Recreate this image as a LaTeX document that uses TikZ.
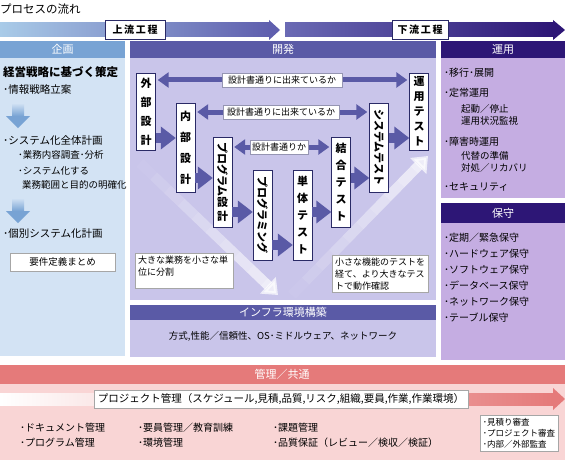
\documentclass[tikz,border=0pt]{standalone}
\usepackage{fontspec}
\setmainfont{Noto Sans CJK JP}
\usetikzlibrary{arrows.meta,calc,positioning}

\definecolor{kikakuhd}{HTML}{78A3D4}
\definecolor{kikakubg}{HTML}{D3E3F4}
\definecolor{kaihatsuhd}{HTML}{5A5AA6}
\definecolor{kaihatsubg}{HTML}{C9C5EA}
\definecolor{unyohd}{HTML}{2D1676}
\definecolor{unyobg}{HTML}{C5ADE2}
\definecolor{kanrihd}{HTML}{E57A7A}
\definecolor{kanribg}{HTML}{F9D5D5}
\definecolor{boxline}{HTML}{2A2A66}
\definecolor{bandA}{HTML}{A9CBE8}
\definecolor{bandB}{HTML}{5F5FAE}
\definecolor{bandC}{HTML}{6A6AB4}
\definecolor{bandD}{HTML}{2D1676}

\begin{document}
\begin{tikzpicture}[x=1pt,y=-1pt,
    hdr/.style={text=white,inner sep=0pt,font=\fontsize{11}{13}\selectfont},
    txt/.style={anchor=west,inner sep=0pt,font=\fontsize{10}{12}\selectfont},
    subtxt/.style={anchor=west,inner sep=0pt,font=\fontsize{9.5}{11}\selectfont},
    stage/.style={draw=boxline,fill=white,inner sep=0pt,minimum width=19pt,align=center,
        font=\bfseries\fontsize{11}{#1}\selectfont},
    chk/.style={draw=boxline!50,fill=white,inner sep=2pt,minimum height=14pt,
        font=\fontsize{9}{11}\selectfont},
    note/.style={draw=gray!70,fill=white,inner sep=3pt,anchor=north west,
        font=\fontsize{9}{12}\selectfont},
    fwd/.style={kaihatsuhd,line width=10pt,-{Triangle[length=15pt,width=22pt]}},
    dbl/.style={kaihatsuhd,line width=5pt,{Triangle[length=11pt,width=15pt]}-{Triangle[length=11pt,width=15pt]}}]
  \useasboundingbox (0,0) rectangle (565,460);

  % title and process bands
  \node[anchor=west,inner sep=0pt,font=\fontsize{11.5}{13}\selectfont] (flow) at (0,9) {プロセスの流れ};
  \shade[left color=bandA,right color=bandB] (0,23) rectangle (269,37);
  \fill[bandB] (269,20) -- (280,30) -- (269,40) -- cycle;
  \shade[left color=bandC,right color=bandD] (285,23) rectangle (553,37);
  \fill[bandD] (553,20) -- (565,30) -- (553,40) -- cycle;
  \node[draw=boxline,fill=white,minimum width=60pt,minimum height=19pt,inner sep=0pt,
    font=\bfseries\fontsize{10}{12}\selectfont] (joryu) at (135,30) {上\,流\,工\,程};
  \node[draw=boxline,fill=white,minimum width=56pt,minimum height=19pt,inner sep=0pt,
    font=\bfseries\fontsize{10}{12}\selectfont] (karyu) at (420,30) {下\,流\,工\,程};

  % planning
  \fill[kikakubg] (0,41) rectangle (125,356);
  \fill[kikakuhd] (0,41) rectangle (125,58);
  \node[hdr] (kikaku) at (62.5,49.5) {企画};
  \node[txt,font=\bfseries\fontsize{11.5}{13}\selectfont] (senryaku) at (3,72) {経営戦略に基づく策定};
  \node[txt,font=\fontsize{10.5}{12}\selectfont] (joho) at (3,89) {･情報戦略立案};
  \foreach \y in {103,198}{
    \shade[top color=kikakubg,bottom color=kikakuhd] (12,\y) rectangle (24,\y+13);
    \fill[kikakuhd] (6,\y+13) -- (30,\y+13) -- (18,\y+25) -- cycle;
  }
  \node[txt,font=\fontsize{10.5}{12}\selectfont] (zentai) at (3,140) {･システム化全体計画};
  \node[subtxt] (chosa) at (18,155) {･業務内容調査･分析};
  \node[subtxt] (shisuka) at (18,171) {･システム化する};
  \node[subtxt] (hanni) at (22,185) {業務範囲と目的の明確化};
  \node[txt,font=\fontsize{10.5}{12}\selectfont] (kobetsu) at (3,234) {･個別システム化計画};
  \node[draw=gray!70,fill=white,minimum width=105pt,minimum height=18pt,inner sep=0pt,
    font=\fontsize{9.5}{11}\selectfont] (yoken) at (62.5,262) {要件定義まとめ};

  % development
  \fill[kaihatsubg] (130,41) rectangle (436,300);
  \fill[kaihatsuhd] (130,41) rectangle (436,58);
  \node[hdr] (kaihatsu) at (283,49.5) {開発};

  \coordinate (dn0) at (140,163);
  \coordinate (dn1) at (278,295);
  \coordinate (up0) at (292,295);
  \coordinate (up1) at (428,156);
  \foreach \i in {0,...,8}{
    \draw[white,line width=10pt,opacity=0.05+0.07*\i] ($(dn0)!\i/10!(dn1)$) -- ($(dn0)!\i/10+0.1!(dn1)$);
    \draw[white,line width=10pt,opacity=0.05+0.07*\i] ($(up0)!\i/10!(up1)$) -- ($(up0)!\i/10+0.1!(up1)$);
  }
  \draw[white,line width=10pt,opacity=0.7,-{Triangle[length=14pt,width=22pt]}] ($(dn0)!0.9!(dn1)$) -- (dn1);
  \draw[white,line width=10pt,opacity=0.7,-{Triangle[length=14pt,width=22pt]}] ($(up0)!0.9!(up1)$) -- (up1);

  \node[stage=19,minimum height=77pt] (gaibu) at (146,111.5) {外\\部\\設\\計};
  \node[stage=21,minimum height=89pt] (naibu) at (185.5,147.5) {内\\部\\設\\計};
  \node[stage=14,minimum height=90pt] (pgsekkei) at (222.5,182) {\rotatebox{-90}{プログラム}\\設\\計};
  \node[stage=13,minimum height=90pt] (pgming) at (262.5,215) {\rotatebox{-90}{プログラミング}};
  \node[stage=17,minimum height=90pt] (tantai) at (302.5,215) {単\\体\\テ\\ス\\ト};
  \node[stage=17,minimum height=90pt] (ketsugo) at (341,182) {結\\合\\テ\\ス\\ト};
  \node[stage=13,minimum height=89pt] (systest) at (379,147.5) {\rotatebox{-90}{システムテスト}};
  \node[stage=15,minimum height=77pt] (unyotest) at (419,111.5) {運\\用\\テ\\ス\\ト};

  \draw[fwd] (gaibu.east |- 0,138) -- (naibu.west |- 0,138);
  \draw[fwd] (naibu.east |- 0,178) -- (pgsekkei.west |- 0,178);
  \draw[fwd] (pgsekkei.east |- 0,212) -- (pgming.west |- 0,212);
  \draw[fwd] (pgming.east |- 0,245) -- (tantai.west |- 0,245);
  \draw[fwd] (tantai.east |- 0,212) -- (ketsugo.west |- 0,212);
  \draw[fwd] (ketsugo.east |- 0,178) -- (systest.west |- 0,178);
  \draw[fwd] (systest.east |- 0,138) -- (unyotest.west |- 0,138);

  \draw[dbl,shorten <=2pt,shorten >=2pt] (gaibu.east |- 0,80) -- (unyotest.west |- 0,80);
  \draw[dbl,shorten <=2pt,shorten >=2pt] (naibu.east |- 0,112) -- (systest.west |- 0,112);
  \draw[dbl,shorten <=2pt,shorten >=2pt] (pgsekkei.east |- 0,147) -- (ketsugo.west |- 0,147);
  \node[chk,inner xsep=6pt] (chk1) at (282,80) {設計書通りに出来ているか};
  \node[chk,inner xsep=4pt] (chk2) at (281,112) {設計書通りに出来ているか};
  \node[chk] (chk3) at (279,147) {設計書通りか};

  \node[note] (bunkatsu) at (135,253) {\parbox[t][29pt][t]{92pt}{大きな業務を小さな単\\位に分割}};
  \node[note] (kakunin) at (332,255) {\parbox[t][31pt][t]{90pt}{小さな機能のテストを\\経て、より大きなテス\\トで動作確認}};

  % infrastructure
  \fill[kaihatsubg] (130,305) rectangle (436,357);
  \fill[kaihatsuhd] (130,305) rectangle (436,320);
  \node[hdr] (infra) at (283,312.5) {インフラ環境構築};
  \node[inner sep=0pt,font=\fontsize{9.5}{11}\selectfont] (hoshiki) at (283,336) {方式,性能／信頼性、OS･ミドルウェア、ネットワーク};

  % operation
  \fill[unyobg] (441,41) rectangle (565,198);
  \fill[unyohd] (441,41) rectangle (565,58);
  \node[hdr] (unyo) at (503,49.5) {運用};
  \node[txt] (ikou) at (444,73) {･移行･展開};
  \node[txt] (teijo) at (444,93) {･定常運用};
  \node[subtxt] (kido) at (461,109) {起動／停止};
  \node[subtxt] (kanshi) at (461,121) {運用状況監視};
  \node[txt] (shogai) at (444,142) {･障害時運用};
  \node[subtxt] (daitai) at (461,156) {代替の準備};
  \node[subtxt] (taisho) at (461,168) {対処／リカバリ};
  \node[txt] (security) at (444,187) {･セキュリティ};

  % maintenance
  \fill[unyobg] (441,203) rectangle (565,360);
  \fill[unyohd] (441,203) rectangle (565,223);
  \node[hdr] (hoshu) at (503,213) {保守};
  \node[txt] (teiki) at (444,238) {･定期／緊急保守};
  \node[txt] (hard) at (444,254) {･ハードウェア保守};
  \node[txt] (soft) at (444,270) {･ソフトウェア保守};
  \node[txt] (db) at (444,286) {･データベース保守};
  \node[txt] (net) at (444,302) {･ネットワーク保守};
  \node[txt] (table) at (444,318) {･テーブル保守};

  % management
  \fill[kanribg] (0,365) rectangle (565,460);
  \fill[kanrihd] (0,365) rectangle (565,384);
  \node[hdr] (kanri) at (282,374.5) {管理／共通};
  \shade[left color=white,right color=kanrihd] (0,393) rectangle (553,405);
  \fill[kanrihd] (553,388) -- (565,399) -- (553,410) -- cycle;
  \node[draw=gray!70,fill=white,minimum height=18pt,inner xsep=4pt,inner ysep=0pt,
    font=\fontsize{10.5}{12}\selectfont] (pm) at (281,399)
    {プロジェクト管理（スケジュール,見積,品質,リスク,組織,要員,作業,作業環境）};
  \node[txt] (doc) at (20,428) {･ドキュメント管理};
  \node[txt] (prog) at (20,443) {･プログラム管理};
  \node[txt] (yoin) at (138,428) {･要員管理／教育訓練};
  \node[txt] (kankyo) at (138,443) {･環境管理};
  \node[txt] (kadai) at (273,428) {･課題管理};
  \node[txt] (hinshitsu) at (273,443) {･品質保証（レビュー／検収／検証）};
  \node[draw=gray!70,fill=white,align=left,inner sep=3pt,minimum width=78pt,
    font=\fontsize{8.5}{11}\selectfont] (audit) at (519,433.5)
    {･見積り審査\\･プロジェクト審査\\･内部／外部監査};
\end{tikzpicture}
\end{document}
